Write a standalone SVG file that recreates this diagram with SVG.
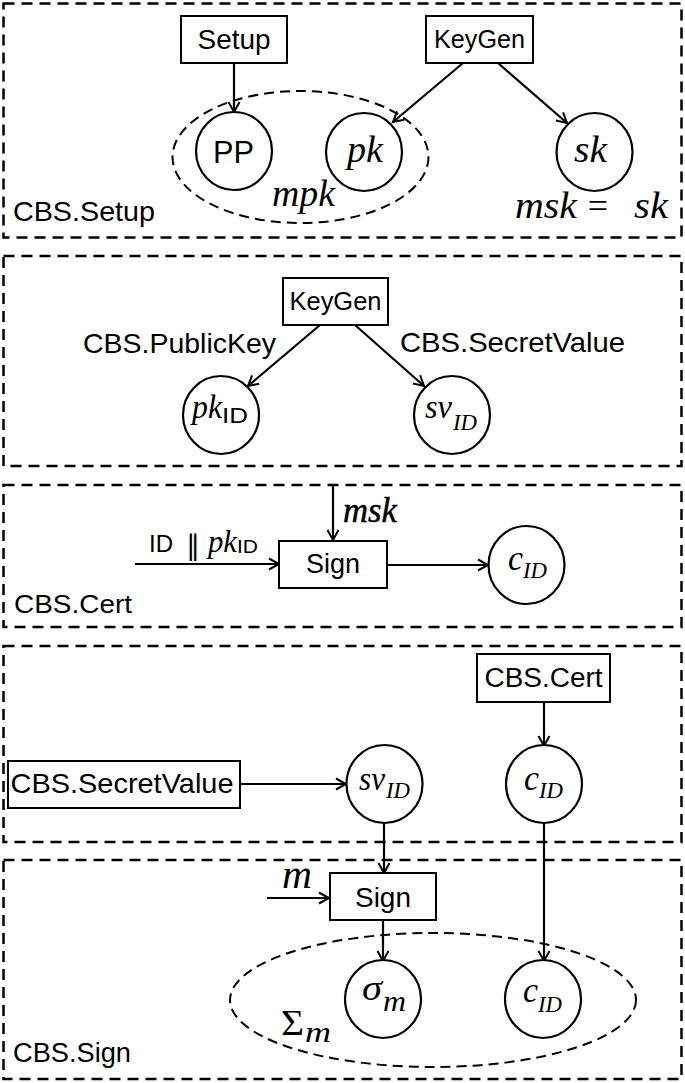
<svg xmlns="http://www.w3.org/2000/svg" width="685" height="1083" viewBox="0 0 685 1083">
<style>
.panel{fill:none;stroke:#000;stroke-width:2.5;stroke-dasharray:11 7}
.grp{fill:none;stroke:#000;stroke-width:2;stroke-dasharray:10 6}
.box{fill:#fff;stroke:#000;stroke-width:2}
.node{fill:#fff;stroke:#000;stroke-width:2.2}
.edge{fill:none;stroke:#000;stroke-width:2.2;marker-end:url(#ah)}
.sans{font-family:"Liberation Sans",Arial,sans-serif;fill:#000}
.math{font-family:"Liberation Serif","Times New Roman",serif;font-style:italic;fill:#000}
.rm{font-family:"Liberation Serif","Times New Roman",serif;font-style:normal;fill:#000}
</style>
<defs>
<marker id="ah" markerWidth="14" markerHeight="14" refX="12" refY="7" orient="auto" markerUnits="userSpaceOnUse">
<path d="M2,1.5 L12,7 L2,12.5" fill="none" stroke="#000" stroke-width="2"/>
</marker>
</defs>
<rect width="685" height="1083" fill="#fff"/>

<!-- panels -->
<g id="panels">
<rect class="panel" x="3.5" y="3.5" width="678" height="234"/>
<rect class="panel" x="3.5" y="256" width="678" height="210"/>
<rect class="panel" x="3.5" y="485" width="678" height="142"/>
<rect class="panel" x="3.5" y="646" width="678" height="196"/>
<rect class="panel" x="3.5" y="860" width="678" height="219"/>
</g>

<!-- groupings -->
<g id="mpk-group">
<ellipse class="grp" cx="300.5" cy="157" rx="128" ry="66"/>
<text class="math" x="272" y="206" font-size="38" textLength="63" lengthAdjust="spacingAndGlyphs">mpk</text>
</g>
<g id="sigma-group">
<ellipse class="grp" cx="433" cy="1000" rx="203" ry="67"/>
<text class="rm" x="281" y="1035" font-size="36" textLength="23" lengthAdjust="spacingAndGlyphs">Σ</text>
<text class="math" x="305" y="1042" font-size="30" textLength="26" lengthAdjust="spacingAndGlyphs">m</text>
</g>

<!-- connectors -->
<g id="connectors">
<line class="edge" x1="234" y1="63" x2="234" y2="112"/>
<line class="edge" x1="463" y1="63" x2="393" y2="122"/>
<line class="edge" x1="498" y1="63" x2="567" y2="123"/>
<line class="edge" x1="320" y1="325" x2="248" y2="386"/>
<line class="edge" x1="355" y1="325" x2="424" y2="386"/>
<line class="edge" x1="333" y1="485" x2="333" y2="540"/>
<line class="edge" x1="135" y1="564" x2="279" y2="564"/>
<line class="edge" x1="388" y1="565" x2="488" y2="565"/>
<line class="edge" x1="544" y1="702" x2="544" y2="746"/>
<line class="edge" x1="240" y1="784" x2="346" y2="784"/>
<line class="edge" x1="384" y1="823" x2="384" y2="873"/>
<line class="edge" x1="267" y1="898" x2="329" y2="898"/>
<line class="edge" x1="383" y1="920" x2="383" y2="961"/>
<line class="edge" x1="544" y1="823" x2="544" y2="961"/>
</g>

<!-- panel 1 -->
<g id="setup-box">
<rect class="box" x="181" y="16" width="106" height="47"/>
<text class="sans" x="234" y="49" font-size="28" text-anchor="middle" textLength="73" lengthAdjust="spacingAndGlyphs">Setup</text>
</g>
<g id="keygen1-box">
<rect class="box" x="426" y="16" width="107" height="47"/>
<text class="sans" x="479.5" y="48" font-size="25" text-anchor="middle" textLength="91" lengthAdjust="spacingAndGlyphs">KeyGen</text>
</g>
<g id="pp-node">
<ellipse class="node" cx="234" cy="151" rx="38" ry="39"/>
<text class="sans" x="233.5" y="163" font-size="31" text-anchor="middle" textLength="41" lengthAdjust="spacingAndGlyphs">PP</text>
</g>
<g id="pk-node">
<ellipse class="node" cx="364" cy="152" rx="38" ry="39"/>
<text class="math" x="347" y="162" font-size="38" textLength="36" lengthAdjust="spacingAndGlyphs">pk</text>
</g>
<g id="sk-node">
<ellipse class="node" cx="594.5" cy="152" rx="38" ry="39"/>
<text class="math" x="574" y="162" font-size="38" textLength="33" lengthAdjust="spacingAndGlyphs">sk</text>
</g>
<g id="msk-eq">
<text class="math" x="515" y="218" font-size="38" textLength="62" lengthAdjust="spacingAndGlyphs">msk</text>
<text class="rm" x="598" y="218" font-size="36" text-anchor="middle">=</text>
<text class="math" x="634" y="218" font-size="38" textLength="34" lengthAdjust="spacingAndGlyphs">sk</text>
</g>
<g id="label-setup">
<text class="sans" x="13" y="221" font-size="28" textLength="142" lengthAdjust="spacingAndGlyphs">CBS.Setup</text>
</g>

<!-- panel 2 -->
<g id="keygen2-box">
<rect class="box" x="283" y="278" width="105" height="47"/>
<text class="sans" x="335.5" y="310" font-size="25" text-anchor="middle" textLength="92" lengthAdjust="spacingAndGlyphs">KeyGen</text>
</g>
<g id="label-publickey">
<text class="sans" x="83" y="353" font-size="28" textLength="193" lengthAdjust="spacingAndGlyphs">CBS.PublicKey</text>
</g>
<g id="label-secretvalue">
<text class="sans" x="400" y="352" font-size="28" textLength="225" lengthAdjust="spacingAndGlyphs">CBS.SecretValue</text>
</g>
<g id="pkid-node">
<ellipse class="node" cx="221" cy="415" rx="38" ry="39"/>
<text class="math" x="192" y="418" font-size="34" textLength="30" lengthAdjust="spacingAndGlyphs">pk</text>
<text class="sans" x="222" y="423" font-size="22" textLength="26" lengthAdjust="spacingAndGlyphs">ID</text>
</g>
<g id="svid-node">
<ellipse class="node" cx="452" cy="415" rx="38" ry="39"/>
<text class="math" x="425" y="418" font-size="34" textLength="27" lengthAdjust="spacingAndGlyphs">sv</text>
<text class="math" x="453" y="430" font-size="24" textLength="24" lengthAdjust="spacingAndGlyphs">ID</text>
</g>

<!-- panel 3 -->
<g id="msk-label">
<text class="math" x="343" y="522" font-size="36" textLength="54" lengthAdjust="spacingAndGlyphs" stroke="#000" stroke-width="0.5">msk</text>
</g>
<g id="input-label">
<text class="sans" x="149" y="552" font-size="24" textLength="24" lengthAdjust="spacingAndGlyphs">ID</text>
<text class="rm" x="192.5" y="555" font-size="28" text-anchor="middle" font-family="DejaVu Serif">∥</text>
<text class="math" x="208" y="552" font-size="32" textLength="29" lengthAdjust="spacingAndGlyphs">pk</text>
<text class="sans" x="237" y="553" font-size="19" textLength="21" lengthAdjust="spacingAndGlyphs">ID</text>
</g>
<g id="sign1-box">
<rect class="box" x="279" y="541" width="108" height="47"/>
<text class="sans" x="333" y="573" font-size="27" text-anchor="middle" textLength="54" lengthAdjust="spacingAndGlyphs">Sign</text>
</g>
<g id="cid1-node">
<ellipse class="node" cx="526.5" cy="565" rx="38" ry="39"/>
<text class="math" x="508" y="570" font-size="36" textLength="15" lengthAdjust="spacingAndGlyphs">c</text>
<text class="math" x="523" y="578" font-size="24" textLength="24" lengthAdjust="spacingAndGlyphs">ID</text>
</g>
<g id="label-cert">
<text class="sans" x="14" y="613" font-size="26" textLength="118" lengthAdjust="spacingAndGlyphs">CBS.Cert</text>
</g>

<!-- panel 4 -->
<g id="cert-box">
<rect class="box" x="477" y="654" width="133" height="48"/>
<text class="sans" x="543.5" y="687" font-size="27" text-anchor="middle" textLength="118" lengthAdjust="spacingAndGlyphs">CBS.Cert</text>
</g>
<g id="secretvalue-box">
<rect class="box" x="8" y="761" width="232" height="47"/>
<text class="sans" x="122" y="793" font-size="28" text-anchor="middle" textLength="223" lengthAdjust="spacingAndGlyphs">CBS.SecretValue</text>
</g>
<g id="svid2-node">
<ellipse class="node" cx="384.5" cy="784" rx="38" ry="39"/>
<text class="math" x="359" y="790" font-size="34" textLength="26" lengthAdjust="spacingAndGlyphs">sv</text>
<text class="math" x="386" y="798" font-size="24" textLength="24" lengthAdjust="spacingAndGlyphs">ID</text>
</g>
<g id="cid2-node">
<ellipse class="node" cx="544" cy="784" rx="38" ry="39"/>
<text class="math" x="524" y="790" font-size="36" textLength="15" lengthAdjust="spacingAndGlyphs">c</text>
<text class="math" x="539" y="798" font-size="24" textLength="24" lengthAdjust="spacingAndGlyphs">ID</text>
</g>

<!-- panel 5 -->
<g id="m-label">
<text class="math" x="282" y="888" font-size="40" textLength="30" lengthAdjust="spacingAndGlyphs">m</text>
</g>
<g id="sign2-box">
<rect class="box" x="330" y="873" width="106" height="47"/>
<text class="sans" x="383" y="907" font-size="27" text-anchor="middle" textLength="56" lengthAdjust="spacingAndGlyphs">Sign</text>
</g>
<g id="sigma-node">
<ellipse class="node" cx="383" cy="999" rx="38" ry="39"/>
<text class="math" x="362" y="1000" font-size="36" textLength="20" lengthAdjust="spacingAndGlyphs">σ</text>
<text class="math" x="383" y="1011" font-size="30" textLength="23" lengthAdjust="spacingAndGlyphs">m</text>
</g>
<g id="cid3-node">
<ellipse class="node" cx="543" cy="999" rx="38" ry="39"/>
<text class="math" x="523" y="1002" font-size="36" textLength="15" lengthAdjust="spacingAndGlyphs">c</text>
<text class="math" x="538" y="1012" font-size="24" textLength="24" lengthAdjust="spacingAndGlyphs">ID</text>
</g>
<g id="label-sign">
<text class="sans" x="13" y="1062" font-size="27" textLength="118" lengthAdjust="spacingAndGlyphs">CBS.Sign</text>
</g>
</svg>
